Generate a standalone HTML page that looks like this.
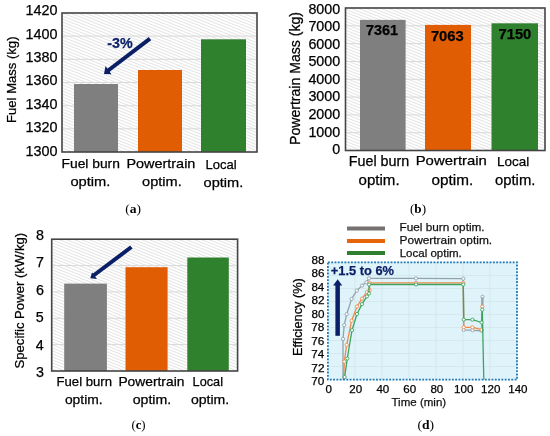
<!DOCTYPE html>
<html><head><meta charset="utf-8"><title>Figure</title>
<style>html,body{margin:0;padding:0;background:#fff;} svg{display:block;}</style></head>
<body>
<svg width="550" height="436" viewBox="0 0 550 436">
<defs>
<pattern id="hatch" patternUnits="userSpaceOnUse" width="7.5" height="3">
<rect width="7.5" height="3" fill="#ffffff"/>
<path d="M-1,-3.4 L8.5,0.4 M-1,-0.4 L8.5,3.4 M-1,2.6 L8.5,6.4" stroke="#e0e0e0" stroke-width="0.9"/>
</pattern>
</defs>
<rect width="550" height="436" fill="#fff"/>
<rect x="62" y="13" width="195" height="139" fill="url(#hatch)"/>
<line x1="62" y1="128.8" x2="257" y2="128.8" stroke="#dadada" stroke-width="1"/>
<line x1="62" y1="105.7" x2="257" y2="105.7" stroke="#dadada" stroke-width="1"/>
<line x1="62" y1="82.5" x2="257" y2="82.5" stroke="#dadada" stroke-width="1"/>
<line x1="62" y1="59.3" x2="257" y2="59.3" stroke="#dadada" stroke-width="1"/>
<line x1="62" y1="36.1" x2="257" y2="36.1" stroke="#dadada" stroke-width="1"/>
<rect x="74" y="84" width="44.0" height="68.0" fill="#7f7f7f"/>
<rect x="138" y="70" width="44.0" height="82.0" fill="#e15d03"/>
<rect x="201" y="39.3" width="45.0" height="112.7" fill="#30812e"/>
<rect x="62" y="13" width="195" height="139" fill="none" stroke="#444" stroke-width="1.6"/>
<text x="25.4" y="15.1" font-size="14.3" fill="#000" stroke="#000" stroke-width="0.25" font-family="'Liberation Sans', Arial, sans-serif" textLength="32.0" lengthAdjust="spacingAndGlyphs">1420</text>
<text x="25.4" y="38.5" font-size="14.3" fill="#000" stroke="#000" stroke-width="0.25" font-family="'Liberation Sans', Arial, sans-serif" textLength="32.0" lengthAdjust="spacingAndGlyphs">1400</text>
<text x="25.4" y="61.9" font-size="14.3" fill="#000" stroke="#000" stroke-width="0.25" font-family="'Liberation Sans', Arial, sans-serif" textLength="32.0" lengthAdjust="spacingAndGlyphs">1380</text>
<text x="25.4" y="85.3" font-size="14.3" fill="#000" stroke="#000" stroke-width="0.25" font-family="'Liberation Sans', Arial, sans-serif" textLength="32.0" lengthAdjust="spacingAndGlyphs">1360</text>
<text x="25.4" y="108.7" font-size="14.3" fill="#000" stroke="#000" stroke-width="0.25" font-family="'Liberation Sans', Arial, sans-serif" textLength="32.0" lengthAdjust="spacingAndGlyphs">1340</text>
<text x="25.4" y="132.1" font-size="14.3" fill="#000" stroke="#000" stroke-width="0.25" font-family="'Liberation Sans', Arial, sans-serif" textLength="32.0" lengthAdjust="spacingAndGlyphs">1320</text>
<text x="25.4" y="155.5" font-size="14.3" fill="#000" stroke="#000" stroke-width="0.25" font-family="'Liberation Sans', Arial, sans-serif" textLength="32.0" lengthAdjust="spacingAndGlyphs">1300</text>
<text x="61.5" y="167.9" font-size="13.2" fill="#000" stroke="#000" stroke-width="0.25" font-family="'Liberation Sans', Arial, sans-serif" textLength="58.4" lengthAdjust="spacingAndGlyphs">Fuel burn</text>
<text x="70.4" y="186.4" font-size="13.2" fill="#000" stroke="#000" stroke-width="0.25" font-family="'Liberation Sans', Arial, sans-serif" textLength="40.0" lengthAdjust="spacingAndGlyphs">optim.</text>
<text x="126.4" y="167.9" font-size="13.2" fill="#000" stroke="#000" stroke-width="0.25" font-family="'Liberation Sans', Arial, sans-serif" textLength="69.0" lengthAdjust="spacingAndGlyphs">Powertrain</text>
<text x="142.1" y="186.0" font-size="13.2" fill="#000" stroke="#000" stroke-width="0.25" font-family="'Liberation Sans', Arial, sans-serif" textLength="39.6" lengthAdjust="spacingAndGlyphs">optim.</text>
<text x="205.5" y="168.6" font-size="13.2" fill="#000" stroke="#000" stroke-width="0.25" font-family="'Liberation Sans', Arial, sans-serif" textLength="31.2" lengthAdjust="spacingAndGlyphs">Local</text>
<text x="203.6" y="186.8" font-size="13.2" fill="#000" stroke="#000" stroke-width="0.25" font-family="'Liberation Sans', Arial, sans-serif" textLength="39.7" lengthAdjust="spacingAndGlyphs">optim.</text>
<text transform="translate(15.8,122.9) rotate(-90)" x="0" y="0" font-size="13.5" fill="#000" stroke="#000" stroke-width="0.25" font-family="'Liberation Sans', Arial, sans-serif" textLength="86.4" lengthAdjust="spacingAndGlyphs">Fuel Mass (kg)</text>
<text x="107.2" y="47.8" font-size="14.8" font-weight="bold" fill="#0b1f66" stroke="#0b1f66" stroke-width="0.25" font-family="'Liberation Sans', Arial, sans-serif" textLength="25.4" lengthAdjust="spacingAndGlyphs">-3%</text>
<line x1="150" y1="38.6" x2="107.5" y2="71" stroke="#0b1f66" stroke-width="4"/>
<polygon points="104,74 105.5,66 111.5,74.2" fill="#0b1f66"/>
<text x="125.3" y="213.0" font-size="12.8" font-family="'Liberation Serif', 'Times New Roman', serif" textLength="15.8" lengthAdjust="spacingAndGlyphs">(<tspan font-weight="bold">a</tspan>)</text>
<rect x="345.5" y="8" width="199.5" height="142.5" fill="url(#hatch)"/>
<line x1="345.5" y1="132.7" x2="545" y2="132.7" stroke="#dadada" stroke-width="1"/>
<line x1="345.5" y1="114.9" x2="545" y2="114.9" stroke="#dadada" stroke-width="1"/>
<line x1="345.5" y1="97.1" x2="545" y2="97.1" stroke="#dadada" stroke-width="1"/>
<line x1="345.5" y1="79.3" x2="545" y2="79.3" stroke="#dadada" stroke-width="1"/>
<line x1="345.5" y1="61.5" x2="545" y2="61.5" stroke="#dadada" stroke-width="1"/>
<line x1="345.5" y1="43.6" x2="545" y2="43.6" stroke="#dadada" stroke-width="1"/>
<line x1="345.5" y1="25.8" x2="545" y2="25.8" stroke="#dadada" stroke-width="1"/>
<rect x="360" y="19.9" width="45.6" height="130.6" fill="#7f7f7f"/>
<rect x="425" y="24.9" width="46.0" height="125.6" fill="#e15d03"/>
<rect x="491.5" y="23.3" width="46.5" height="127.2" fill="#30812e"/>
<rect x="345.5" y="8" width="199.5" height="142.5" fill="none" stroke="#444" stroke-width="1.6"/>
<text x="308.4" y="13.8" font-size="14.3" fill="#000" stroke="#000" stroke-width="0.25" font-family="'Liberation Sans', Arial, sans-serif">8000</text>
<text x="308.4" y="31.3" font-size="14.3" fill="#000" stroke="#000" stroke-width="0.25" font-family="'Liberation Sans', Arial, sans-serif">7000</text>
<text x="308.4" y="48.8" font-size="14.3" fill="#000" stroke="#000" stroke-width="0.25" font-family="'Liberation Sans', Arial, sans-serif">6000</text>
<text x="308.4" y="66.4" font-size="14.3" fill="#000" stroke="#000" stroke-width="0.25" font-family="'Liberation Sans', Arial, sans-serif">5000</text>
<text x="308.4" y="83.9" font-size="14.3" fill="#000" stroke="#000" stroke-width="0.25" font-family="'Liberation Sans', Arial, sans-serif">4000</text>
<text x="308.4" y="101.4" font-size="14.3" fill="#000" stroke="#000" stroke-width="0.25" font-family="'Liberation Sans', Arial, sans-serif">3000</text>
<text x="308.4" y="118.9" font-size="14.3" fill="#000" stroke="#000" stroke-width="0.25" font-family="'Liberation Sans', Arial, sans-serif">2000</text>
<text x="308.4" y="136.5" font-size="14.3" fill="#000" stroke="#000" stroke-width="0.25" font-family="'Liberation Sans', Arial, sans-serif">1000</text>
<text x="332.3" y="154.0" font-size="14.3" fill="#000" stroke="#000" stroke-width="0.25" font-family="'Liberation Sans', Arial, sans-serif">0</text>
<text x="365.9" y="35.2" font-size="14.5" font-weight="bold" fill="#000" stroke="#000" stroke-width="0.25" font-family="'Liberation Sans', Arial, sans-serif" textLength="32.2" lengthAdjust="spacingAndGlyphs">7361</text>
<text x="430.9" y="41.1" font-size="14.5" font-weight="bold" fill="#000" stroke="#000" stroke-width="0.25" font-family="'Liberation Sans', Arial, sans-serif" textLength="32.8" lengthAdjust="spacingAndGlyphs">7063</text>
<text x="498.5" y="38.5" font-size="14.5" font-weight="bold" fill="#000" stroke="#000" stroke-width="0.25" font-family="'Liberation Sans', Arial, sans-serif" textLength="32.8" lengthAdjust="spacingAndGlyphs">7150</text>
<text x="348.7" y="165.7" font-size="13.8" fill="#000" stroke="#000" stroke-width="0.25" font-family="'Liberation Sans', Arial, sans-serif" textLength="60.6" lengthAdjust="spacingAndGlyphs">Fuel burn</text>
<text x="358.5" y="184.7" font-size="13.8" fill="#000" stroke="#000" stroke-width="0.25" font-family="'Liberation Sans', Arial, sans-serif" textLength="41.1" lengthAdjust="spacingAndGlyphs">optim.</text>
<text x="415.7" y="165.3" font-size="13.6" fill="#000" stroke="#000" stroke-width="0.25" font-family="'Liberation Sans', Arial, sans-serif" textLength="71.2" lengthAdjust="spacingAndGlyphs">Powertrain</text>
<text x="431.5" y="184.5" font-size="13.8" fill="#000" stroke="#000" stroke-width="0.25" font-family="'Liberation Sans', Arial, sans-serif" textLength="41.7" lengthAdjust="spacingAndGlyphs">optim.</text>
<text x="497.0" y="166.3" font-size="13.6" fill="#000" stroke="#000" stroke-width="0.25" font-family="'Liberation Sans', Arial, sans-serif" textLength="32.2" lengthAdjust="spacingAndGlyphs">Local</text>
<text x="495.0" y="185.3" font-size="13.8" fill="#000" stroke="#000" stroke-width="0.25" font-family="'Liberation Sans', Arial, sans-serif" textLength="40.4" lengthAdjust="spacingAndGlyphs">optim.</text>
<text transform="translate(299.5,145.0) rotate(-90)" x="0" y="0" font-size="14" fill="#000" stroke="#000" stroke-width="0.25" font-family="'Liberation Sans', Arial, sans-serif" textLength="133.0" lengthAdjust="spacingAndGlyphs">Powertrain Mass (kg)</text>
<text x="410.0" y="212.9" font-size="12.8" font-family="'Liberation Serif', 'Times New Roman', serif" textLength="16.1" lengthAdjust="spacingAndGlyphs">(<tspan font-weight="bold">b</tspan>)</text>
<rect x="51.7" y="239.2" width="185.89999999999998" height="131.8" fill="url(#hatch)"/>
<line x1="51.7" y1="344.6" x2="237.6" y2="344.6" stroke="#dadada" stroke-width="1"/>
<line x1="51.7" y1="318.3" x2="237.6" y2="318.3" stroke="#dadada" stroke-width="1"/>
<line x1="51.7" y1="291.9" x2="237.6" y2="291.9" stroke="#dadada" stroke-width="1"/>
<line x1="51.7" y1="265.6" x2="237.6" y2="265.6" stroke="#dadada" stroke-width="1"/>
<rect x="64.2" y="283.6" width="42.7" height="87.4" fill="#7f7f7f"/>
<rect x="125.5" y="267.2" width="42.1" height="103.8" fill="#e15d03"/>
<rect x="187.3" y="257.5" width="41.5" height="113.5" fill="#30812e"/>
<rect x="51.7" y="239.2" width="185.89999999999998" height="131.8" fill="none" stroke="#444" stroke-width="1.6"/>
<text x="35.9" y="239.7" font-size="14.3" fill="#000" stroke="#000" stroke-width="0.25" font-family="'Liberation Sans', Arial, sans-serif">8</text>
<text x="36.0" y="267.1" font-size="14.3" fill="#000" stroke="#000" stroke-width="0.25" font-family="'Liberation Sans', Arial, sans-serif">7</text>
<text x="35.9" y="294.6" font-size="14.3" fill="#000" stroke="#000" stroke-width="0.25" font-family="'Liberation Sans', Arial, sans-serif">6</text>
<text x="35.8" y="322.0" font-size="14.3" fill="#000" stroke="#000" stroke-width="0.25" font-family="'Liberation Sans', Arial, sans-serif">5</text>
<text x="35.7" y="349.5" font-size="14.3" fill="#000" stroke="#000" stroke-width="0.25" font-family="'Liberation Sans', Arial, sans-serif">4</text>
<text x="35.9" y="376.9" font-size="14.3" fill="#000" stroke="#000" stroke-width="0.25" font-family="'Liberation Sans', Arial, sans-serif">3</text>
<text x="56.5" y="385.9" font-size="12.9" fill="#000" stroke="#000" stroke-width="0.25" font-family="'Liberation Sans', Arial, sans-serif" textLength="55.5" lengthAdjust="spacingAndGlyphs">Fuel burn</text>
<text x="64.9" y="403.5" font-size="12.9" fill="#000" stroke="#000" stroke-width="0.25" font-family="'Liberation Sans', Arial, sans-serif" textLength="37.7" lengthAdjust="spacingAndGlyphs">optim.</text>
<text x="118.4" y="385.9" font-size="12.9" fill="#000" stroke="#000" stroke-width="0.25" font-family="'Liberation Sans', Arial, sans-serif" textLength="66.0" lengthAdjust="spacingAndGlyphs">Powertrain</text>
<text x="132.7" y="403.5" font-size="12.9" fill="#000" stroke="#000" stroke-width="0.25" font-family="'Liberation Sans', Arial, sans-serif" textLength="38.5" lengthAdjust="spacingAndGlyphs">optim.</text>
<text x="192.6" y="386.1" font-size="12.9" fill="#000" stroke="#000" stroke-width="0.25" font-family="'Liberation Sans', Arial, sans-serif" textLength="30.4" lengthAdjust="spacingAndGlyphs">Local</text>
<text x="190.9" y="403.6" font-size="12.9" fill="#000" stroke="#000" stroke-width="0.25" font-family="'Liberation Sans', Arial, sans-serif" textLength="38.3" lengthAdjust="spacingAndGlyphs">optim.</text>
<text transform="translate(23.8,368.5) rotate(-90)" x="0" y="0" font-size="13.3" fill="#000" stroke="#000" stroke-width="0.25" font-family="'Liberation Sans', Arial, sans-serif" textLength="135.7" lengthAdjust="spacingAndGlyphs">Specific Power (kW/kg)</text>
<line x1="131.4" y1="247" x2="93.5" y2="275.5" stroke="#0b1f66" stroke-width="4"/>
<polygon points="90.3,278.2 92,272.3 97,278.9" fill="#0b1f66"/>
<text x="131.4" y="429.3" font-size="12.8" font-family="'Liberation Serif', 'Times New Roman', serif" textLength="14.2" lengthAdjust="spacingAndGlyphs">(<tspan font-weight="bold">c</tspan>)</text>
<rect x="327.9" y="262.3" width="189.1" height="117.3" fill="#def4fa"/>
<line x1="354.9" y1="262.3" x2="354.9" y2="379.6" stroke="#d3e4e9" stroke-width="0.8"/>
<line x1="381.9" y1="262.3" x2="381.9" y2="379.6" stroke="#d3e4e9" stroke-width="0.8"/>
<line x1="408.9" y1="262.3" x2="408.9" y2="379.6" stroke="#d3e4e9" stroke-width="0.8"/>
<line x1="435.9" y1="262.3" x2="435.9" y2="379.6" stroke="#d3e4e9" stroke-width="0.8"/>
<line x1="462.9" y1="262.3" x2="462.9" y2="379.6" stroke="#d3e4e9" stroke-width="0.8"/>
<line x1="489.9" y1="262.3" x2="489.9" y2="379.6" stroke="#d3e4e9" stroke-width="0.8"/>
<line x1="327.9" y1="366.5" x2="517" y2="366.5" stroke="#d3e4e9" stroke-width="0.8"/>
<line x1="327.9" y1="353.5" x2="517" y2="353.5" stroke="#d3e4e9" stroke-width="0.8"/>
<line x1="327.9" y1="340.5" x2="517" y2="340.5" stroke="#d3e4e9" stroke-width="0.8"/>
<line x1="327.9" y1="327.5" x2="517" y2="327.5" stroke="#d3e4e9" stroke-width="0.8"/>
<line x1="327.9" y1="314.5" x2="517" y2="314.5" stroke="#d3e4e9" stroke-width="0.8"/>
<line x1="327.9" y1="301.5" x2="517" y2="301.5" stroke="#d3e4e9" stroke-width="0.8"/>
<line x1="327.9" y1="288.5" x2="517" y2="288.5" stroke="#d3e4e9" stroke-width="0.8"/>
<line x1="327.9" y1="275.5" x2="517" y2="275.5" stroke="#d3e4e9" stroke-width="0.8"/>
<path d="M343.0,379.6 L343.0,338.9 L344.2,325.2 L346.7,314.2 L351.6,298.9 L356.8,290.6 L362.0,285.6 L366.5,282.3 L369.0,278.4 L416.0,278.4 L463.3,278.6 L463.7,329.9 L472.4,330.3 L481.6,330.8 L482.5,296.8" fill="none" stroke="#93a2ab" stroke-width="1.3" stroke-linejoin="round"/>
<circle cx="343.0" cy="338.9" r="1.6" fill="#fff" stroke="#93a2ab" stroke-width="0.9"/>
<circle cx="344.2" cy="325.2" r="1.6" fill="#fff" stroke="#93a2ab" stroke-width="0.9"/>
<circle cx="346.7" cy="314.2" r="1.6" fill="#fff" stroke="#93a2ab" stroke-width="0.9"/>
<circle cx="351.6" cy="298.9" r="1.6" fill="#fff" stroke="#93a2ab" stroke-width="0.9"/>
<circle cx="356.8" cy="290.6" r="1.6" fill="#fff" stroke="#93a2ab" stroke-width="0.9"/>
<circle cx="362.0" cy="285.6" r="1.6" fill="#fff" stroke="#93a2ab" stroke-width="0.9"/>
<circle cx="366.5" cy="282.3" r="1.6" fill="#fff" stroke="#93a2ab" stroke-width="0.9"/>
<circle cx="369.0" cy="278.4" r="1.6" fill="#fff" stroke="#93a2ab" stroke-width="0.9"/>
<circle cx="416.0" cy="278.4" r="1.6" fill="#fff" stroke="#93a2ab" stroke-width="0.9"/>
<circle cx="463.3" cy="278.6" r="1.6" fill="#fff" stroke="#93a2ab" stroke-width="0.9"/>
<circle cx="463.7" cy="329.9" r="1.6" fill="#fff" stroke="#93a2ab" stroke-width="0.9"/>
<circle cx="472.4" cy="330.3" r="1.6" fill="#fff" stroke="#93a2ab" stroke-width="0.9"/>
<circle cx="481.6" cy="330.8" r="1.6" fill="#fff" stroke="#93a2ab" stroke-width="0.9"/>
<circle cx="482.5" cy="296.8" r="1.6" fill="#fff" stroke="#93a2ab" stroke-width="0.9"/>
<line x1="482.4" y1="297.5" x2="482.4" y2="306" stroke="#93a2ab" stroke-width="2.2"/>
<path d="M343.6,379.5 L344.3,361.6 L346.7,344.9 L351.6,320.7 L357.0,306.5 L362.0,298.6 L366.9,292.2 L369.6,290.2 L369.6,282.9 L416.0,282.9 L463.3,282.9 L463.7,327.3 L472.4,327.3 L481.6,329.7 L482.2,306.5" fill="none" stroke="#ee8a4c" stroke-width="1.3" stroke-linejoin="round"/>
<circle cx="344.3" cy="361.6" r="1.6" fill="#fff" stroke="#ee8a4c" stroke-width="0.9"/>
<circle cx="346.7" cy="344.9" r="1.6" fill="#fff" stroke="#ee8a4c" stroke-width="0.9"/>
<circle cx="351.6" cy="320.7" r="1.6" fill="#fff" stroke="#ee8a4c" stroke-width="0.9"/>
<circle cx="357.0" cy="306.5" r="1.6" fill="#fff" stroke="#ee8a4c" stroke-width="0.9"/>
<circle cx="362.0" cy="298.6" r="1.6" fill="#fff" stroke="#ee8a4c" stroke-width="0.9"/>
<circle cx="366.9" cy="292.2" r="1.6" fill="#fff" stroke="#ee8a4c" stroke-width="0.9"/>
<circle cx="369.6" cy="290.2" r="1.6" fill="#fff" stroke="#ee8a4c" stroke-width="0.9"/>
<circle cx="369.6" cy="282.9" r="1.6" fill="#fff" stroke="#ee8a4c" stroke-width="0.9"/>
<circle cx="416.0" cy="282.9" r="1.6" fill="#fff" stroke="#ee8a4c" stroke-width="0.9"/>
<circle cx="463.3" cy="282.9" r="1.6" fill="#fff" stroke="#ee8a4c" stroke-width="0.9"/>
<circle cx="463.7" cy="327.3" r="1.6" fill="#fff" stroke="#ee8a4c" stroke-width="0.9"/>
<circle cx="472.4" cy="327.3" r="1.6" fill="#fff" stroke="#ee8a4c" stroke-width="0.9"/>
<circle cx="481.6" cy="329.7" r="1.6" fill="#fff" stroke="#ee8a4c" stroke-width="0.9"/>
<circle cx="482.2" cy="306.5" r="1.6" fill="#fff" stroke="#ee8a4c" stroke-width="0.9"/>
<path d="M344.6,377.1 L347.3,358.5 L352.0,330.2 L357.0,314.0 L362.0,304.1 L366.9,296.4 L369.0,293.5 L369.0,284.5 L416.0,284.5 L463.3,284.5 L463.7,319.6 L472.4,319.6 L481.6,322.5 L482.3,309.7 L483.8,379.6" fill="none" stroke="#3ea35f" stroke-width="1.3" stroke-linejoin="round"/>
<circle cx="344.6" cy="377.1" r="1.6" fill="#fff" stroke="#3ea35f" stroke-width="0.9"/>
<circle cx="347.3" cy="358.5" r="1.6" fill="#fff" stroke="#3ea35f" stroke-width="0.9"/>
<circle cx="352.0" cy="330.2" r="1.6" fill="#fff" stroke="#3ea35f" stroke-width="0.9"/>
<circle cx="357.0" cy="314.0" r="1.6" fill="#fff" stroke="#3ea35f" stroke-width="0.9"/>
<circle cx="362.0" cy="304.1" r="1.6" fill="#fff" stroke="#3ea35f" stroke-width="0.9"/>
<circle cx="366.9" cy="296.4" r="1.6" fill="#fff" stroke="#3ea35f" stroke-width="0.9"/>
<circle cx="369.0" cy="293.5" r="1.6" fill="#fff" stroke="#3ea35f" stroke-width="0.9"/>
<circle cx="369.0" cy="284.5" r="1.6" fill="#fff" stroke="#3ea35f" stroke-width="0.9"/>
<circle cx="416.0" cy="284.5" r="1.6" fill="#fff" stroke="#3ea35f" stroke-width="0.9"/>
<circle cx="463.3" cy="284.5" r="1.6" fill="#fff" stroke="#3ea35f" stroke-width="0.9"/>
<circle cx="463.7" cy="319.6" r="1.6" fill="#fff" stroke="#3ea35f" stroke-width="0.9"/>
<circle cx="472.4" cy="319.6" r="1.6" fill="#fff" stroke="#3ea35f" stroke-width="0.9"/>
<circle cx="481.6" cy="322.5" r="1.6" fill="#fff" stroke="#3ea35f" stroke-width="0.9"/>
<circle cx="482.3" cy="309.7" r="1.6" fill="#fff" stroke="#3ea35f" stroke-width="0.9"/>
<rect x="327.9" y="262.3" width="189.1" height="117.3" fill="none" stroke="#2079b6" stroke-width="1.8" stroke-dasharray="1.9 1.4"/>
<text x="311.4" y="263.9" font-size="11.6" fill="#000" stroke="#000" stroke-width="0.25" font-family="'Liberation Sans', Arial, sans-serif" textLength="13.0" lengthAdjust="spacingAndGlyphs">88</text>
<text x="311.4" y="277.4" font-size="11.6" fill="#000" stroke="#000" stroke-width="0.25" font-family="'Liberation Sans', Arial, sans-serif" textLength="13.0" lengthAdjust="spacingAndGlyphs">86</text>
<text x="311.4" y="290.9" font-size="11.6" fill="#000" stroke="#000" stroke-width="0.25" font-family="'Liberation Sans', Arial, sans-serif" textLength="12.8" lengthAdjust="spacingAndGlyphs">84</text>
<text x="311.4" y="304.4" font-size="11.6" fill="#000" stroke="#000" stroke-width="0.25" font-family="'Liberation Sans', Arial, sans-serif" textLength="13.1" lengthAdjust="spacingAndGlyphs">82</text>
<text x="311.4" y="317.9" font-size="11.6" fill="#000" stroke="#000" stroke-width="0.25" font-family="'Liberation Sans', Arial, sans-serif" textLength="13.0" lengthAdjust="spacingAndGlyphs">80</text>
<text x="311.3" y="331.4" font-size="11.6" fill="#000" stroke="#000" stroke-width="0.25" font-family="'Liberation Sans', Arial, sans-serif" textLength="13.1" lengthAdjust="spacingAndGlyphs">78</text>
<text x="311.3" y="344.9" font-size="11.6" fill="#000" stroke="#000" stroke-width="0.25" font-family="'Liberation Sans', Arial, sans-serif" textLength="13.1" lengthAdjust="spacingAndGlyphs">76</text>
<text x="311.3" y="358.4" font-size="11.6" fill="#000" stroke="#000" stroke-width="0.25" font-family="'Liberation Sans', Arial, sans-serif" textLength="12.9" lengthAdjust="spacingAndGlyphs">74</text>
<text x="311.3" y="371.9" font-size="11.6" fill="#000" stroke="#000" stroke-width="0.25" font-family="'Liberation Sans', Arial, sans-serif" textLength="13.2" lengthAdjust="spacingAndGlyphs">72</text>
<text x="311.3" y="385.4" font-size="11.6" fill="#000" stroke="#000" stroke-width="0.25" font-family="'Liberation Sans', Arial, sans-serif" textLength="13.1" lengthAdjust="spacingAndGlyphs">70</text>
<text x="325.4" y="392.7" font-size="11.6" fill="#000" stroke="#000" stroke-width="0.25" font-family="'Liberation Sans', Arial, sans-serif">0</text>
<text x="349.2" y="392.7" font-size="11.6" fill="#000" stroke="#000" stroke-width="0.25" font-family="'Liberation Sans', Arial, sans-serif">20</text>
<text x="376.4" y="392.7" font-size="11.6" fill="#000" stroke="#000" stroke-width="0.25" font-family="'Liberation Sans', Arial, sans-serif">40</text>
<text x="403.3" y="392.7" font-size="11.6" fill="#000" stroke="#000" stroke-width="0.25" font-family="'Liberation Sans', Arial, sans-serif">60</text>
<text x="430.4" y="392.7" font-size="11.6" fill="#000" stroke="#000" stroke-width="0.25" font-family="'Liberation Sans', Arial, sans-serif">80</text>
<text x="454.1" y="392.7" font-size="11.6" fill="#000" stroke="#000" stroke-width="0.25" font-family="'Liberation Sans', Arial, sans-serif">100</text>
<text x="481.1" y="392.7" font-size="11.6" fill="#000" stroke="#000" stroke-width="0.25" font-family="'Liberation Sans', Arial, sans-serif">120</text>
<text x="508.2" y="392.7" font-size="11.6" fill="#000" stroke="#000" stroke-width="0.25" font-family="'Liberation Sans', Arial, sans-serif">140</text>
<text x="391.5" y="405.5" font-size="11.5" fill="#111" stroke="#111" stroke-width="0.25" font-family="'Liberation Sans', Arial, sans-serif" textLength="54.7" lengthAdjust="spacingAndGlyphs">Time (min)</text>
<text transform="translate(301.8,356.0) rotate(-90)" x="0" y="0" font-size="13.3" fill="#000" stroke="#000" stroke-width="0.25" font-family="'Liberation Sans', Arial, sans-serif" textLength="77.8" lengthAdjust="spacingAndGlyphs">Efficiency (%)</text>
<line x1="347" y1="228.5" x2="385" y2="228.5" stroke="#767171" stroke-width="4"/>
<text x="399.6" y="231.4" font-size="11.5" fill="#111" stroke="#111" stroke-width="0.25" font-family="'Liberation Sans', Arial, sans-serif" textLength="85.0" lengthAdjust="spacingAndGlyphs">Fuel burn optim.</text>
<line x1="347" y1="241.1" x2="385" y2="241.1" stroke="#e5640c" stroke-width="4"/>
<text x="399.6" y="243.9" font-size="11.5" fill="#111" stroke="#111" stroke-width="0.25" font-family="'Liberation Sans', Arial, sans-serif" textLength="92.5" lengthAdjust="spacingAndGlyphs">Powertrain optim.</text>
<line x1="347" y1="253" x2="385" y2="253" stroke="#2e8030" stroke-width="4"/>
<text x="399.7" y="256.5" font-size="11.5" fill="#111" stroke="#111" stroke-width="0.25" font-family="'Liberation Sans', Arial, sans-serif" textLength="62.1" lengthAdjust="spacingAndGlyphs">Local optim.</text>
<text x="330.8" y="274.6" font-size="13.2" font-weight="bold" fill="#0b1f66" stroke="#0b1f66" stroke-width="0.25" font-family="'Liberation Sans', Arial, sans-serif" textLength="63.2" lengthAdjust="spacingAndGlyphs">+1.5 to 6%</text>
<rect x="335.4" y="285" width="4.5" height="50.8" fill="#0b1f66"/>
<polygon points="337.7,279.3 333.1,285.6 342.2,285.6" fill="#0b1f66"/>
<text x="417.5" y="429.3" font-size="12.8" font-family="'Liberation Serif', 'Times New Roman', serif" textLength="16.6" lengthAdjust="spacingAndGlyphs">(<tspan font-weight="bold">d</tspan>)</text>
</svg>
</body></html>
